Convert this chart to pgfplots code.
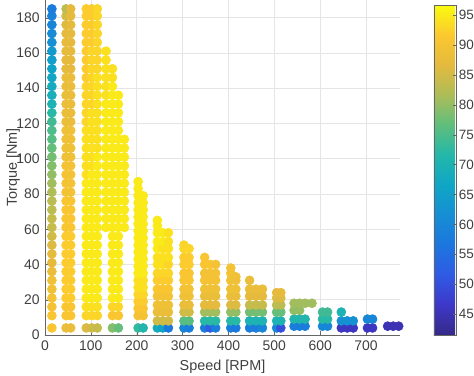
\documentclass[border=0pt]{standalone}
\usepackage{pgfplots}
\pgfplotsset{compat=1.18}
\usepackage{pgfplotstable}
\usepackage{fontspec}
\setmainfont{Liberation Sans}
\pgfplotsset{colormap={parula}{rgb255=(53,42,135) rgb255=(62,55,200) rgb255=(48,90,228) rgb255=(28,118,222) rgb255=(22,142,212) rgb255=(15,166,198) rgb255=(35,183,170) rgb255=(95,190,125) rgb255=(172,189,88) rgb255=(228,186,62) rgb255=(252,200,48) rgb255=(249,251,14)}}
\pgfplotstableread{
x y c
15 4 91
15 11 91
15 16 90
15 21 90
15 26 89
15 31 89
15 36 88
15 41 87
15 46 87
15 51 86
15 56 85
15 61 84
15 66 84
15 71 83
15 76 83
15 81 82
15 86 81
15 91 80
15 96 79
15 101 78
15 106 77
15 111 76
15 116 75
15 121 74
15 126 72
15 131 70
15 136 69
15 141 68
15 146 67
15 151 66
15 156 65
15 161 64
15 166 62
15 171 61
15 176 60
15 181 59
15 185 58
46 4 88
46 11 91
46 16 91
46 21 92
46 26 92
46 31 92
46 36 92
46 41 92
46 46 92
46 51 92
46 56 92
46 61 91
46 66 91
46 71 91
46 76 91
46 81 90
46 86 90
46 91 90
46 96 90
46 101 89
46 106 89
46 111 89
46 116 89
46 121 88
46 126 88
46 131 88
46 136 88
46 141 88
46 146 88
46 151 87
46 156 87
46 161 87
46 166 87
46 171 87
46 176 86
46 181 85
46 185 83
56 4 88
56 11 91
56 16 91
56 21 92
56 26 92
56 31 92
56 36 92
56 41 92
56 46 92
56 51 92
56 56 92
56 61 91
56 66 91
56 71 91
56 76 91
56 81 90
56 86 90
56 91 90
56 96 90
56 101 89
56 106 89
56 111 89
56 116 89
56 121 88
56 126 88
56 131 88
56 136 88
56 141 88
56 146 88
56 151 87
56 156 87
56 161 87
56 166 87
56 171 87
56 176 87
56 181 87
56 185 87
90 4 86
90 11 93
90 16 94
90 21 95
90 26 95
90 31 95
90 36 95
90 41 95
90 46 95
90 51 95
90 56 95
90 61 95
90 66 95
90 71 95
90 76 95
90 81 95
90 86 95
90 91 94
90 96 94
90 101 94
90 106 94
90 111 94
90 116 94
90 121 93
90 126 93
90 131 93
90 136 93
90 141 93
90 146 92
90 151 92
90 156 92
90 161 92
90 166 92
90 171 92
90 176 92
90 181 92
90 185 92
102 4 85
102 11 93
102 16 94
102 21 95
102 26 95
102 31 95
102 36 95
102 41 95
102 46 95
102 51 95
102 56 95
102 61 95
102 66 95
102 71 95
102 76 95
102 81 95
102 86 95
102 91 95
102 96 94
102 101 94
102 106 94
102 111 94
102 116 94
102 121 94
102 126 94
102 131 93
102 136 93
102 141 93
102 146 93
102 151 93
102 156 93
102 161 93
102 166 92
102 171 92
102 176 92
102 181 92
102 185 92
114 4 84
114 11 93
114 16 94
114 21 95
114 26 95
114 31 95
114 36 95
114 41 95
114 46 95
114 51 95
114 56 95
114 61 95
114 66 95
114 71 95
114 76 95
114 81 95
114 86 95
114 91 95
114 96 95
114 101 95
114 106 94
114 111 94
114 116 94
114 121 94
114 126 94
114 131 94
114 136 94
114 141 94
114 146 94
114 151 93
114 156 93
114 161 93
114 166 93
114 171 93
114 176 93
114 181 93
114 185 93
133 61 95
133 66 95
133 71 95
133 76 95
133 81 95
133 86 95
133 91 95
133 96 95
133 101 95
133 106 95
133 111 95
133 116 95
133 121 95
133 126 95
133 131 95
133 136 94
133 141 94
133 146 94
133 151 94
133 156 94
133 161 94
147 4 79
147 11 91
147 16 93
147 21 95
147 26 95
147 31 95
147 36 95
147 41 95
147 46 95
147 51 95
147 56 95
147 61 95
147 66 95
147 71 95
147 76 95
147 81 95
147 86 95
147 91 95
147 96 95
147 101 95
147 106 95
147 111 95
147 116 95
147 121 95
147 126 95
147 131 95
147 136 95
147 141 95
147 146 94
147 151 94
160 4 77
160 11 91
160 16 93
160 21 95
160 26 95
160 31 95
160 36 95
160 41 95
160 46 95
160 51 95
160 56 95
160 61 95
160 66 95
160 71 95
160 76 95
160 81 95
160 86 95
160 91 95
160 96 95
160 101 95
160 106 95
160 111 95
160 116 95
160 121 95
160 126 95
160 131 95
160 136 95
173 61 95
173 66 95
173 71 95
173 76 95
173 81 95
173 86 95
173 91 95
173 96 95
173 101 95
173 106 95
173 111 95
203 4 73
203 11 90
203 15 91
203 19 92
203 23 93
203 27 94
203 31 94
203 35 95
203 39 95
203 43 95
203 47 95
203 51 95
203 55 95
203 59 95
203 63 95
203 67 95
203 71 95
203 75 95
203 79 95
203 83 95
203 87 95
214 4 71
214 11 90
214 15 91
214 19 92
214 23 93
214 27 94
214 31 94
214 35 95
214 39 95
214 43 95
214 47 95
214 51 95
214 55 95
214 59 95
214 63 95
214 67 95
214 71 95
214 75 95
214 79 95
245 4 68
245 8 85
245 13 88
245 17 89
245 22 90
245 26 91
245 31 92
245 35 93
245 40 94
245 44 94
245 49 95
245 53 95
245 58 95
245 62 95
245 65 95
257 4 66
257 8 85
257 13 88
257 17 89
257 22 90
257 26 91
257 31 92
257 35 93
257 40 94
257 44 94
257 49 94
257 53 95
257 58 95
269 4 57
269 8 85
269 13 88
269 17 89
269 22 90
269 26 91
269 31 92
269 35 93
269 40 93
269 44 94
269 49 94
269 53 94
269 58 94
303 4 60
303 8 76
303 13 85
303 17 88
303 22 89
303 26 90
303 31 91
303 35 91
303 40 92
303 44 92
303 49 93
303 51 93
314 4 58
314 8 76
314 13 85
314 17 88
314 22 89
314 26 90
314 31 91
314 35 91
314 40 92
314 44 92
314 49 93
348 4 57
348 8 72
348 13 81
348 17 87
348 22 88
348 26 89
348 31 90
348 35 90
348 40 91
348 44 91
360 4 52
360 8 72
360 13 81
360 17 87
360 22 88
360 26 89
360 31 90
360 35 90
360 40 91
372 4 58
372 8 72
372 13 81
372 17 87
372 22 88
372 26 89
372 31 90
372 35 90
372 40 90
405 4 58
405 8 72
405 13 80
405 17 86
405 22 88
405 26 89
405 31 89
405 35 90
405 38 90
416 4 57
416 8 72
416 13 80
416 17 86
416 22 88
416 26 89
416 31 89
416 33 89
446 4 58
446 8 70
446 13 78
446 17 84
446 22 87
446 26 88
446 31 88
460 4 58
460 8 70
460 13 78
460 17 84
460 22 87
460 26 88
474 4 60
474 8 70
474 13 78
474 17 84
474 22 87
474 26 88
505 4 60
505 8 70
505 13 77
505 17 83
505 21 86
505 24 87
514 4 50
514 8 70
514 13 77
514 17 83
514 21 86
514 24 87
543 5 58
543 9 71
543 14 80
543 18 81
555 5 58
555 9 71
555 14 80
555 18 81
567 5 58
567 9 71
567 18 81
582 18 81
605 5 60
605 9 72
605 13 74
616 5 60
616 9 72
616 13 74
646 4 46
646 8 62
646 13 70
659 4 46
659 8 62
672 4 46
672 8 62
703 4 46
703 9 60
714 4 46
714 9 60
747 5 45
759 5 45
771 5 45
}\effdata
\pgfplotsset{every axis/.append style={
  ticklabel style={font=\fontsize{9.3}{11}\selectfont, text=black!75},
  /pgf/number format/assume math mode=true}}
\begin{document}
\begin{tikzpicture}
\begin{axis}[
  name=ax,
  scale only axis, width=236.7pt, height=223.3pt,
  xmin=0, xmax=774, ymin=0, ymax=190,
  clip=false,
  axis lines=left, axis line style={-, black!60, line width=0.5pt},
  xtick={0,100,...,700}, ytick={0,20,...,180},
  tick align=inside, major tick length=2.5pt, tick style={black!60},
  grid=major, major grid style={gray!20, line width=0.4pt},
  xlabel={Speed [RPM]}, ylabel={Torque [Nm]},
  label style={font=\fontsize{9.6}{11}\selectfont, text=black!75},
  xlabel style={at={(axis description cs:0.5,-0.1075)}, anchor=base},
  ylabel style={at={(axis description cs:-0.079,0.5)}, anchor=base, rotate=0},
  colormap name=parula,
  point meta min=41.5, point meta max=96.7,
  colorbar,
  colorbar style={
    scale only axis, width=14.7pt, height=220pt,
    at={(parent axis.north east)}, anchor=north west,
    xshift=14pt, yshift=-3.33pt,
    ytick={45,50,...,95}, ytick pos=right, yticklabel pos=right,
    yticklabel style={xshift=-1.6pt, font=\fontsize{9}{11}\selectfont},
    tick align=inside, major tick length=2pt, tick style={black!60},
    axis line style={black!60},
  },
]
\addplot[scatter, only marks, mark=*, mark size=3pt,
  scatter/use mapped color={draw=mapped color, fill=mapped color},
  point meta=explicit] table[x=x, y=y, meta=c] {\effdata};
\end{axis}
\pgfresetboundingbox
\path ([shift={(-30pt,-27.33pt)}]ax.south west) rectangle ([shift={(286pt,223.33pt)}]ax.south west);
\end{tikzpicture}
\end{document}
